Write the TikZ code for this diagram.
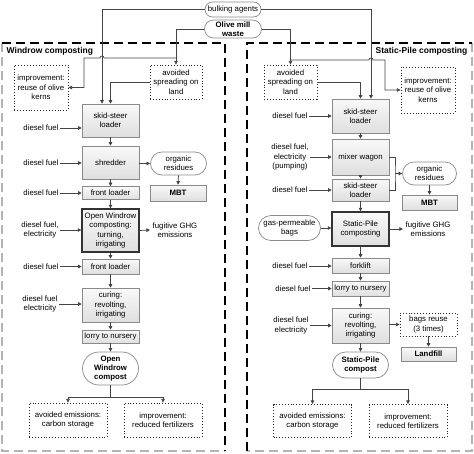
\documentclass[tikz,border=0pt]{standalone}
\usepackage{fontspec}
\setmainfont{Liberation Sans}
\usetikzlibrary{arrows.meta,shapes.misc}
\definecolor{lncol}{HTML}{444444}
\definecolor{bdcol}{HTML}{8A8A8A}
\definecolor{graydash}{HTML}{B4B4B4}
\begin{document}
\begin{tikzpicture}[x=1pt,y=-1pt,
  font=\fontsize{7.8}{9.3}\selectfont,
  every node/.style={align=center, inner sep=0.5pt},
  proc/.style={draw=bdcol, top color=gray!5, bottom color=gray!25, minimum width=57pt, line width=0.6pt},
  mainproc/.style={proc, draw=black!80, line width=1.3pt},
  pill/.style={rounded rectangle, draw=bdcol, fill=white, line width=0.7pt},
  dotbox/.style={draw=black!85, dotted, line width=0.9pt, fill=white},
  title/.style={font=\fontsize{8.5}{10}\selectfont\bfseries},
  conn/.style={draw=lncol, line width=0.7pt},
  arr/.style={conn, -{Triangle[length=3.6pt,width=3.6pt]}},
  panelblk/.style={draw=black, line width=1.4pt, dash pattern=on 9pt off 5pt},
  panelgry/.style={draw=graydash, line width=1.8pt, dash pattern=on 9pt off 5pt}]
\useasboundingbox (0,0) rectangle (474,453);

% panels
\draw[panelgry] (2,43) -- (2,451) -- (225,451);
\draw[panelblk] (2,43) -- (225,43) -- (225,451);
\draw[panelgry] (472,43) -- (472,451) -- (247,451);
\draw[panelblk] (247,451) -- (247,43) -- (472,43);
\node[title, anchor=west] (tL) at (6,51) {Windrow composting};
\node[title, anchor=east] (tR) at (468,51) {Static-Pile composting};

% top inputs
\node[pill, minimum width=57pt, minimum height=15pt] (bulk) at (233,9.5) {bulking agents};
\node[pill, minimum width=58pt, minimum height=18pt, font=\fontsize{7.8}{9}\selectfont\bfseries] (olive) at (233,29) {Olive mill\\waste};

% ---------- left: windrow ----------
\node[dotbox, minimum width=52pt, minimum height=34pt] (LAvoid) at (176,82) {avoided\\spreading on\\land};
\node[dotbox, minimum width=54pt, minimum height=45pt] (LImp) at (41,87.5) {improvement:\\reuse of olive\\kerns};
\node[proc, minimum height=33pt] (LSkid) at (110.5,120.5) {skid-steer\\loader};
\node[proc, minimum height=33pt] (LShred) at (110.5,162.5) {shredder};
\node[proc, minimum height=13pt] (LFront1) at (110.5,193) {front loader};
\node[mainproc, minimum height=43pt] (LOpen) at (110.5,230.5) {Open Windrow\\composting:\\turning,\\irrigating};
\node[proc, minimum height=15pt] (LFront2) at (110.5,266.5) {front loader};
\node[proc, minimum height=34pt] (LCure) at (110.5,305) {curing:\\revolting,\\irrigating};
\node[proc, minimum height=13pt] (LLorry) at (110.5,336.5) {lorry to nursery};
\node[pill, minimum width=57pt, minimum height=33pt, font=\fontsize{7.8}{9.3}\selectfont\bfseries] (LComp) at (110.5,368.5) {Open\\Windrow\\compost};
\node[dotbox, minimum width=78pt, minimum height=34pt] (LEm) at (68,420) {avoided emissions:\\carbon storage};
\node[dotbox, minimum width=78pt, minimum height=34pt] (LFert) at (163,420) {improvement:\\reduced fertilizers};

\node (LD1) at (41,128) {diesel fuel};
\node (LD2) at (41,163) {diesel fuel};
\node (LD3) at (41,193) {diesel fuel};
\node (LD4) at (40,230) {diesel fuel,\\electricity};
\node (LD5) at (41,266.5) {diesel fuel};
\node (LD6) at (40,304) {diesel fuel\\electricity};

\node[pill, minimum width=57pt, minimum height=23pt] (LOrg) at (178.5,163.5) {organic\\residues};
\node[proc, minimum width=56pt, minimum height=16pt, font=\fontsize{7.8}{9.3}\selectfont\bfseries] (LMBT) at (178,193) {MBT};
\node (LGHG) at (175,230) {fugitive GHG\\emissions};

\coordinate (LBr) at (176,58);
\coordinate (LSplit) at (110.5,397);

% connectors left
\draw[arr] (bulk.west) -| ([xshift=-8.5pt]LSkid.north);
\draw[arr] (olive.west) -| (LAvoid.north);
\draw[conn, -{Triangle[length=3.6pt,width=3.6pt]}] (LBr) -- (104,58) arc (0:-180:2) -- (84,58) |- (LImp.east);
\draw[arr] (LAvoid.west) -| (LSkid.north);
\draw[arr] (LSkid.south) -- (LShred.north);
\draw[arr] (LShred.south) -- (LFront1.north);
\draw[arr] (LFront1.south) -- (LOpen.north);
\draw[arr] (LOpen.south) -- (LFront2.north);
\draw[arr] (LFront2.south) -- (LCure.north);
\draw[arr] (LCure.south) -- (LLorry.north);
\draw[arr] (LLorry.south) -- (LComp.north);
\draw[conn] (LComp.south) -- (LSplit);
\draw[arr] (LSplit) -| (LEm.north);
\draw[arr] (LSplit) -| (LFert.north);
\foreach \l/\b in {LD1/LSkid, LD2/LShred, LD3/LFront1, LD4/LOpen, LD5/LFront2, LD6/LCure}
  \draw[arr] ([xshift=1pt]\l.east) -- (\l.east -| \b.west);
\draw[arr] (LShred.east |- LOrg.west) -- (LOrg.west);
\draw[arr] (LOrg.south) -- (LMBT.north);
\draw[arr] (LOpen.east) -- ([xshift=-2pt]LGHG.west);

% ---------- right: static pile ----------
\node[dotbox, minimum width=53pt, minimum height=34pt] (RAvoid) at (290.5,82) {avoided\\spreading on\\land};
\node[dotbox, minimum width=54pt, minimum height=46pt] (RImp) at (428,90) {improvement:\\reuse of olive\\kerns};
\node[proc, minimum height=34pt] (RSkid) at (360.5,116) {skid-steer\\loader};
\node[proc, minimum height=36pt] (RMix) at (360.5,157) {mixer wagon};
\node[proc, minimum height=22pt] (RSkid2) at (360.5,190) {skid-steer\\loader};
\node[mainproc, minimum height=34pt] (RStatic) at (360.5,229) {Static-Pile\\composting};
\node[proc, minimum height=15pt] (RFork) at (360.5,265.5) {forklift};
\node[proc, minimum height=15pt] (RLorry) at (360.5,288.5) {lorry to nursery};
\node[proc, minimum height=35pt] (RCure) at (360.5,325.5) {curing:\\revolting,\\irrigating};
\node[pill, minimum width=57pt, minimum height=26pt, font=\fontsize{7.8}{9.3}\selectfont\bfseries] (RComp) at (360.5,365) {Static-Pile\\compost};
\node[dotbox, minimum width=78pt, minimum height=33pt] (REm) at (312.5,421) {avoided emissions:\\carbon storage};
\node[dotbox, minimum width=78pt, minimum height=33pt] (RFert) at (408,421) {improvement:\\reduced fertilizers};

\node (RD1) at (290,116) {diesel fuel};
\node (RD2) at (290,157) {diesel fuel,\\electricity\\(pumping)};
\node (RD3) at (290,190) {diesel fuel};
\node[pill, minimum width=63pt, minimum height=25pt] (RGas) at (289.5,228) {gas-permeable\\bags};
\node (RD4) at (290,266) {diesel fuel};
\node (RD5) at (293,288.5) {diesel fuel};
\node (RD6) at (291,325.5) {diesel fuel\\electricity};

\node[pill, minimum width=55pt, minimum height=23pt] (ROrg) at (429.5,173.5) {organic\\residues};
\node[proc, minimum width=55pt, minimum height=15pt, font=\fontsize{7.8}{9.3}\selectfont\bfseries] (RMBT) at (429.5,202.5) {MBT};
\node (RGHG) at (428,229) {fugitive GHG\\emissions};
\node[dotbox, minimum width=57pt, minimum height=23pt] (RBags) at (428.5,324.5) {bags reuse\\(3 times)};
\node[proc, minimum width=55pt, minimum height=14pt, font=\fontsize{7.8}{9.3}\selectfont\bfseries] (RLand) at (428.5,354) {Landfill};

\coordinate (RBr) at (290.5,60);
\coordinate (RBk) at (395,173.5);
\coordinate (RSplit) at (360.5,389);

% connectors right
\draw[arr] (bulk.east) -| ([xshift=10.5pt]RSkid.north);
\draw[arr] (olive.east) -| (RAvoid.north);
\draw[conn, -{Triangle[length=3.6pt,width=3.6pt]}] (RBr) -- (369,60) arc (180:360:2) -- (385,60) |- (RImp.west);
\draw[arr] (RAvoid.east) -| (RSkid.north);
\draw[arr] (RSkid.south) -- (RMix.north);
\draw[arr] (RMix.south) -- (RSkid2.north);
\draw[arr] (RSkid2.south) -- (RStatic.north);
\draw[arr] (RStatic.south) -- (RFork.north);
\draw[arr] (RFork.south) -- (RLorry.north);
\draw[arr] (RLorry.south) -- (RCure.north);
\draw[arr] (RCure.south) -- (RComp.north);
\draw[conn] (RComp.south) -- (RSplit);
\draw[arr] (RSplit) -| (REm.north);
\draw[arr] (RSplit) -| (RFert.north);
\foreach \l/\b in {RD1/RSkid, RD2/RMix, RD3/RSkid2, RD4/RFork, RD5/RLorry, RD6/RCure}
  \draw[arr] ([xshift=1pt]\l.east) -- (\l.east -| \b.west);
\draw[arr] (RGas.east) -- (RGas.east -| RStatic.west);
\draw[conn] (RMix.east) -| (RBk) |- (RSkid2.east);
\draw[arr] (RBk) -- (ROrg.west);
\draw[arr] (ROrg.south) -- (RMBT.north);
\draw[arr] (RStatic.east) -- ([xshift=-2pt]RGHG.west);
\draw[arr] (RCure.east |- RBags.west) -- (RBags.west);
\draw[arr] (RBags.south) -- (RLand.north);
\end{tikzpicture}
\end{document}
